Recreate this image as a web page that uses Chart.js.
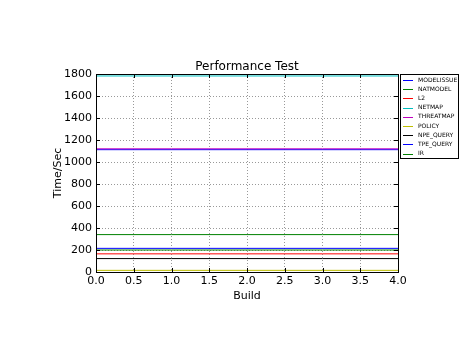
<!DOCTYPE html>
<html><head><meta charset="utf-8">
<script src="https://cdn.jsdelivr.net/npm/chart.js@4.4.1/dist/chart.umd.min.js"></script>
<style>html,body{margin:0;padding:0;background:#fff;}#wrap{width:474px;height:355px;}</style>
</head><body><div id="wrap"><canvas id="c" width="474" height="355"></canvas></div>
<script>
const builds = [0, 1, 2, 3, 4];
const seriesNames = ["MODELISSUE","NATMODEL","L2","NETMAP","THREATMAP","POLICY","NPE_QUERY","TPE_QUERY","IR"];
const MODELISSUE = [215, 215, 215, 215, 215];
const NATMODEL = [340, 340, 340, 340, 340];
const L2 = [165, 165, 165, 165, 165];
const NETMAP = [1782, 1782, 1782, 1782, 1782];
const THREATMAP = [1120, 1120, 1120, 1120, 1120];
const POLICY = [15, 15, 15, 15, 15];
const NPE_QUERY = [122, 122, 122, 122, 122];
const TPE_QUERY = [1112, 1112, 1112, 1112, 1112];
const IR = [200, 200, 200, 200, 200];
const seriesValues = [MODELISSUE, NATMODEL, L2, NETMAP, THREATMAP, POLICY, NPE_QUERY, TPE_QUERY, IR];
const seriesColors = ["#0000ff","#008000","#ff0000","#00bfbf","#bf00bf","#bfbf00","#000000","#0000ff","#008000"];
const chartTitle = "Performance Test";
const xTitle = "Build";
const yTitle = "Time/Sec";

const FONT = "'DejaVu Sans', sans-serif";

const datasets = seriesNames.map((n, i) => ({
  label: n,
  data: builds.map((b, j) => ({x: b, y: seriesValues[i][j]})),
  borderColor: seriesColors[i],
  backgroundColor: seriesColors[i],
  borderWidth: 1,
  pointRadius: 0,
  fill: false,
  tension: 0
}));

const framePlugin = {
  id: 'frame',
  afterDraw(chart) {
    const ctx = chart.ctx;
    const a = chart.chartArea;
    const xs = chart.scales.x, ys = chart.scales.y;
    ctx.save();
    ctx.strokeStyle = '#000';
    ctx.lineWidth = 1;
    ctx.strokeRect(Math.round(a.left) + 0.5, Math.round(a.top) + 0.5, Math.round(a.right - a.left), Math.round(a.bottom - a.top));
    ctx.beginPath();
    xs.ticks.forEach(t => {
      const px = Math.round(xs.getPixelForValue(t.value)) + 0.5;
      ctx.moveTo(px, a.bottom); ctx.lineTo(px, a.bottom - 4);
      ctx.moveTo(px, a.top); ctx.lineTo(px, a.top + 4);
    });
    ys.ticks.forEach(t => {
      const py = Math.round(ys.getPixelForValue(t.value)) + 0.5;
      ctx.moveTo(a.left, py); ctx.lineTo(a.left + 4, py);
      ctx.moveTo(a.right, py); ctx.lineTo(a.right - 4, py);
    });
    ctx.stroke();
    ctx.fillStyle = '#000';
    ctx.font = '12px ' + FONT;
    ctx.textAlign = 'center';
    ctx.textBaseline = 'alphabetic';
    ctx.fillText(chartTitle, (a.left + a.right) / 2, a.top - 4);
    const lx = a.right + 2, ly = a.top, lw = 58, rowH = 9.2;
    const lh = 84;
    ctx.fillStyle = '#fff';
    ctx.fillRect(lx, ly, lw, lh);
    ctx.strokeStyle = '#000';
    ctx.strokeRect(lx + 0.5, ly + 0.5, lw, lh);
    ctx.font = '6px ' + FONT;
    ctx.textAlign = 'left';
    ctx.textBaseline = 'middle';
    chart.data.datasets.forEach((d, i) => {
      const y = ly + 6 + i * rowH;
      ctx.strokeStyle = d.borderColor;
      ctx.beginPath();
      ctx.moveTo(lx + 3, Math.round(y) + 0.5);
      ctx.lineTo(lx + 13, Math.round(y) + 0.5);
      ctx.stroke();
      ctx.fillStyle = '#000';
      ctx.fillText(d.label, lx + 18, y);
    });
    ctx.restore();
  }
};

new Chart(document.getElementById('c'), {
  type: 'line',
  data: { datasets },
  options: {
    responsive: false,
    animation: false,
    layout: { padding: { top: 74, right: 76, left: 0, bottom: 0 } },
    plugins: { legend: { display: false }, title: { display: false }, tooltip: { enabled: false } },
    scales: {
      x: {
        type: 'linear', min: 0, max: 4,
        afterFit(s) { s.height = 83; },
        border: { display: false, dash: [1, 2] },
        grid: { color: '#999', lineWidth: 1, drawTicks: false },
        ticks: { stepSize: 0.5, color: '#000', font: { family: FONT, size: 11 }, padding: 3, maxRotation: 0,
          callback: v => Number(v).toFixed(1) },
        title: { display: true, text: xTitle, color: '#000', font: { family: FONT, size: 11 }, padding: { top: 0, bottom: 52 } }
      },
      y: {
        type: 'linear', min: 0, max: 1800,
        afterFit(s) { s.width = 96; },
        border: { display: false, dash: [1, 2] },
        grid: { color: '#999', lineWidth: 1, drawTicks: false },
        ticks: { stepSize: 200, color: '#000', font: { family: FONT, size: 11 }, padding: 4, callback: v => String(v) },
        title: { display: true, text: yTitle, color: '#000', font: { family: FONT, size: 11 }, padding: { top: 52, bottom: 0 } }
      }
    }
  },
  plugins: [framePlugin]
});
</script>
</body></html>
